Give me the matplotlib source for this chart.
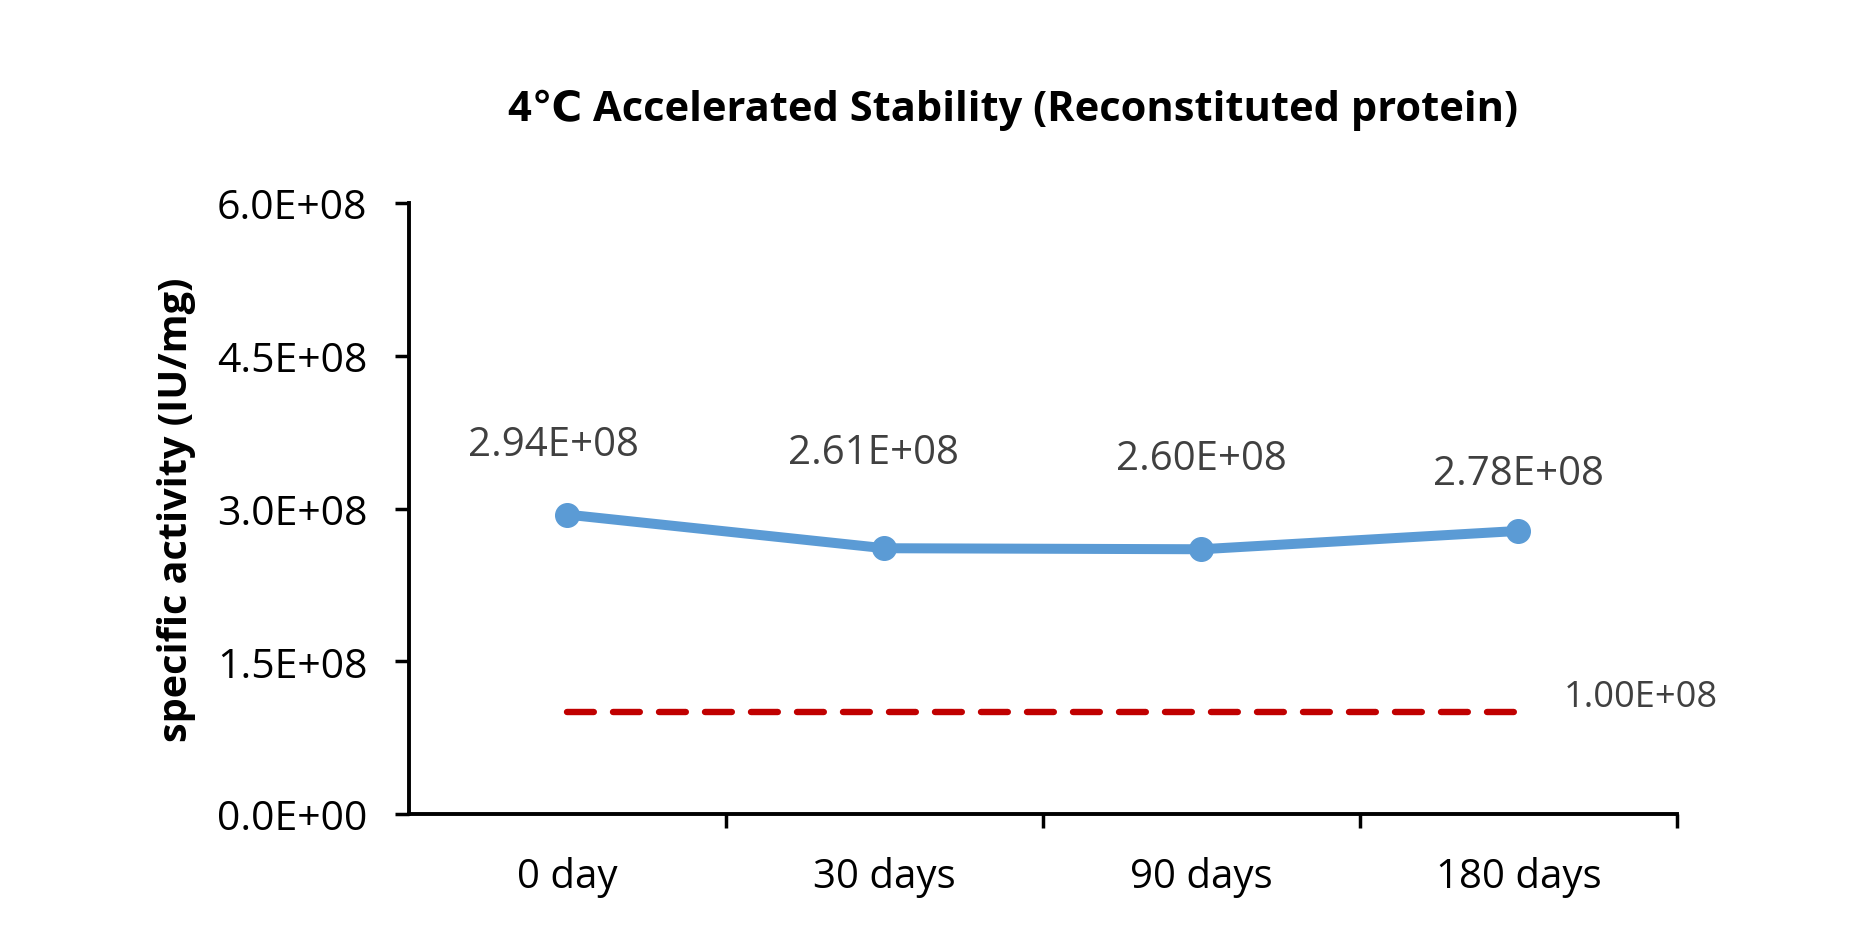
import matplotlib.pyplot as plt
from matplotlib.ticker import FixedLocator, FuncFormatter

# data
categories = ["0 day", "30 days", "90 days", "180 days"]
activity = [2.94e8, 2.61e8, 2.60e8, 2.78e8]
activity_labels = ["2.94E+08", "2.61E+08", "2.60E+08", "2.78E+08"]
limit = [1.0e8, 1.0e8, 1.0e8, 1.0e8]
limit_label = "1.00E+08"
yticks = [0, 1.5e8, 3.0e8, 4.5e8, 6.0e8]

plt.rcParams['font.family'] = ['Open Sans', 'DejaVu Sans']

fig = plt.figure(figsize=(18.52, 9.53), dpi=100)
ax = fig.add_axes([0.2208, 0.1448, 0.6847, 0.6411])

x = list(range(len(categories)))
ax.plot(x, activity, color="#5B9BD5", lw=7.2, marker="o", ms=17, solid_capstyle="round", zorder=3)
ax.plot(x, limit, color="#C00000", lw=4.6, dashes=(4.2, 3.0), dash_capstyle="round", zorder=2)

# data labels (offsets in points)
offs = [(-10, 50), (-8, 69), (0, 65), (0, 41)]
for xi, yi, lab, o in zip(x, activity, activity_labels, offs):
    ax.annotate(lab, (xi, yi), xytext=o, textcoords="offset points",
                ha="center", va="center", fontsize=29, color="#404040")
ax.annotate(limit_label, (x[-1], limit[-1]), xytext=(88, 11), textcoords="offset points",
            ha="center", va="center", fontsize=26, color="#404040")

ax.set_xlim(-0.5, 3.5)
ax.set_ylim(0, 6.0e8)
ax.set_yticks(yticks)
ax.yaxis.set_major_formatter(FuncFormatter(lambda v, p: "%.1E" % v))
ax.tick_params(axis="y", labelsize=29.5, width=2.5, length=10, pad=20, colors="black")

ax.xaxis.set_major_locator(FixedLocator([0.5, 1.5, 2.5, 3.5]))
ax.xaxis.set_major_formatter(FuncFormatter(lambda v, p: ""))
ax.xaxis.set_minor_locator(FixedLocator(x))
ax.set_xticklabels(categories, minor=True)
ax.tick_params(axis="x", which="minor", length=0, labelsize=29, pad=30)
ax.tick_params(axis="x", which="major", width=2.5, length=10)

for s in ["top", "right"]:
    ax.spines[s].set_visible(False)
for s in ["left", "bottom"]:
    ax.spines[s].set_linewidth(2.8)

ax.set_ylabel("specific activity (IU/mg)", fontsize=28.5, fontweight="bold")
ax.yaxis.set_label_coords(-0.168, 0.5)
fig.text(0.547, 0.884, "4℃ Accelerated Stability (Reconstituted protein)",
         ha="center", va="center", fontsize=30, fontweight="bold")

fig.savefig("out.png", dpi=100, facecolor="white")
